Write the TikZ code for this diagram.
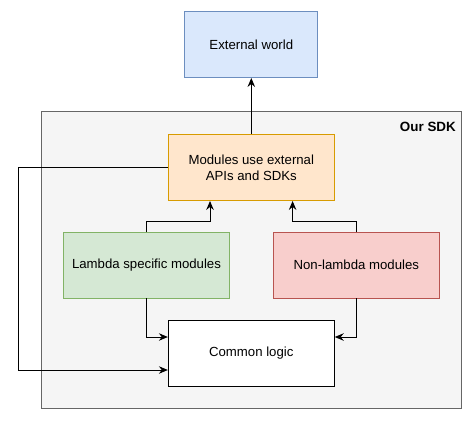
\documentclass[tikz,border=0pt]{standalone}
\usepackage{fontspec}
\setmainfont{Liberation Sans}
\usetikzlibrary{arrows.meta,positioning}
\definecolor{sdkfill}{HTML}{F5F5F5}
\definecolor{sdkline}{HTML}{666666}
\definecolor{extfill}{HTML}{DAE8FC}
\definecolor{extline}{HTML}{6C8EBF}
\definecolor{modfill}{HTML}{FFE6CC}
\definecolor{modline}{HTML}{D79B00}
\definecolor{lamfill}{HTML}{D5E8D4}
\definecolor{lamline}{HTML}{82B366}
\definecolor{nonfill}{HTML}{F8CECC}
\definecolor{nonline}{HTML}{B85450}

\begin{document}
\begin{tikzpicture}[x=1pt,y=-1pt,
  box/.style={draw, minimum width=166pt, minimum height=66pt, inner sep=0pt,
    align=center, line width=0.9pt, font=\fontsize{13.2}{16}\selectfont},
  link/.style={-{Stealth[length=9pt,width=7.5pt,inset=3pt]}, line width=1pt}]
\useasboundingbox (0,0) rectangle (474,421);
\filldraw[fill=sdkfill, draw=sdkline, line width=0.9pt] (41,111) rectangle (461,408);
\node[anchor=east, inner sep=0pt, font=\fontsize{13.4}{16}\selectfont\bfseries] (sdk) at (456,127) {Our SDK};

\node[box, fill=extfill, draw=extline, minimum width=133pt] (ext) at (251.3,44.5) {External world};
\node[box, fill=modfill, draw=modline] (mods) at (251.3,167.5) {Modules use external\\APIs and SDKs};
\node[box, fill=lamfill, draw=lamline] (lambda) at (146.5,265) {Lambda specific modules};
\node[box, fill=nonfill, draw=nonline] (nonlambda) at (356.3,265) {Non-lambda modules};
\node[box, fill=white, draw=black] (common) at (251.3,353) {Common logic};

\draw[link] (mods) -- (ext);
\draw[link] (lambda.north) -- ++(0,-10.5) -| ([xshift=-41.3pt]mods.south);
\draw[link] (nonlambda.north) -- ++(0,-10.5) -| ([xshift=41.3pt]mods.south);
\draw[link] (lambda.south) |- ([yshift=16pt]common.west);
\draw[link] (nonlambda.south) |- ([yshift=16pt]common.east);
\draw[link] (mods.west) -- ++(-149,0) |- ([yshift=-17pt]common.west);
\end{tikzpicture}
\end{document}
